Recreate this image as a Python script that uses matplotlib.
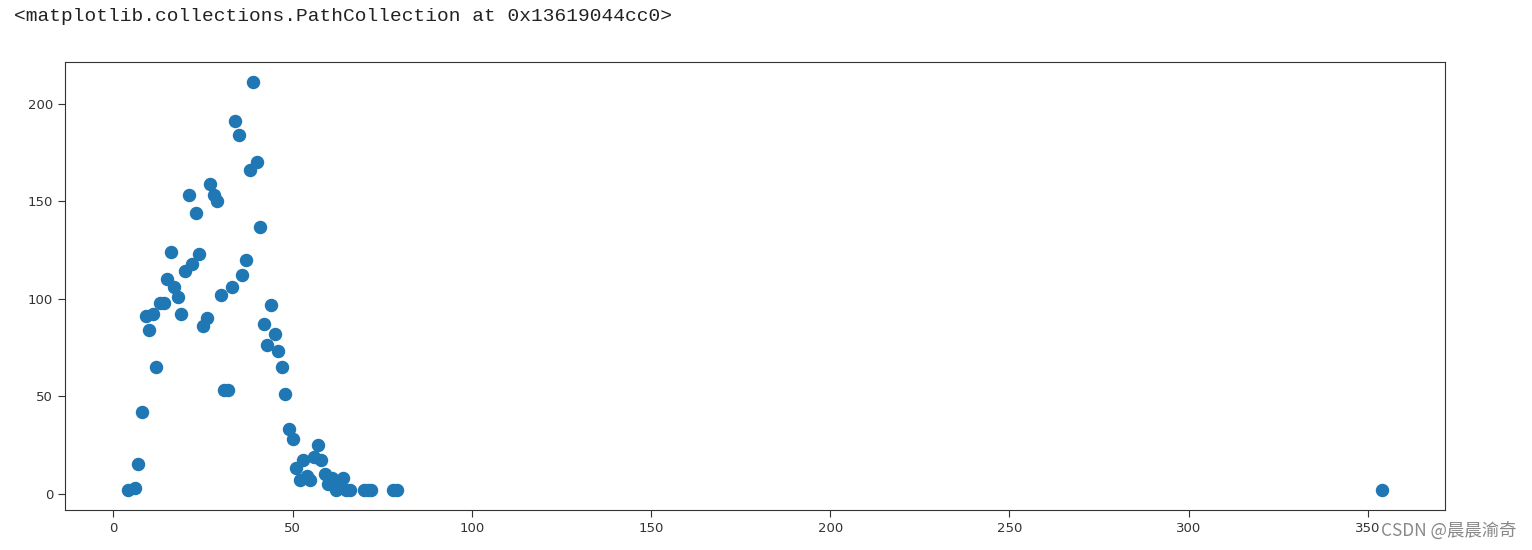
import matplotlib
matplotlib.use("Agg")
from matplotlib import pyplot as plt

# values
x_vals = [4, 6, 7, 8, 9, 10, 11, 12, 13, 14, 15, 16, 17, 18, 19, 20, 21, 22,
          23, 24, 25, 26, 27, 28, 29, 30, 31, 32, 33, 34, 35, 36, 37, 38, 39,
          40, 41, 42, 43, 44, 45, 46, 47, 48, 49, 50, 51, 52, 53, 54, 55, 56,
          57, 58, 59, 60, 61, 62, 63, 64, 65, 66, 70, 71, 72, 78, 79, 354]
y_vals = [2, 3, 15, 42, 91, 84, 92, 65, 98, 98, 110, 124, 106, 101, 92, 114,
          153, 118, 144, 123, 86, 90, 159, 153, 150, 102, 53, 53, 106, 191,
          184, 112, 120, 166, 211, 170, 137, 87, 76, 97, 82, 73, 65, 51, 33,
          28, 13, 7, 17, 9, 7, 19, 25, 17, 10, 5, 8, 2, 5, 8, 2, 2, 2, 2, 2,
          2, 2, 2]

repr_text = "<matplotlib.collections.PathCollection at 0x13619044cc0>"
watermark = "CSDN @晨晨渝奇"

fig = plt.figure(figsize=(15.32, 5.5), dpi=100)
ax = fig.add_axes([0.0424, 0.0727, 0.9008, 0.8146])

ax.scatter(x_vals, y_vals, s=75, color="#1f77b4")

ax.set_xticks([0, 50, 100, 150, 200, 250, 300, 350])
ax.set_yticks([0, 50, 100, 150, 200])
ax.tick_params(labelsize=9.5, colors="#333333", length=5)
for sp in ax.spines.values():
    sp.set_color("#333333")

fig.text(0.009, 0.97, repr_text, family="Liberation Mono", fontsize=14,
         va="center", ha="left", color="#222222")
fig.text(0.9015, 0.035, watermark, family=["Noto Sans CJK SC", "DejaVu Sans"],
         fontsize=12.5, va="center", ha="left", color="#888888")

fig.savefig("out.png", dpi=100)
